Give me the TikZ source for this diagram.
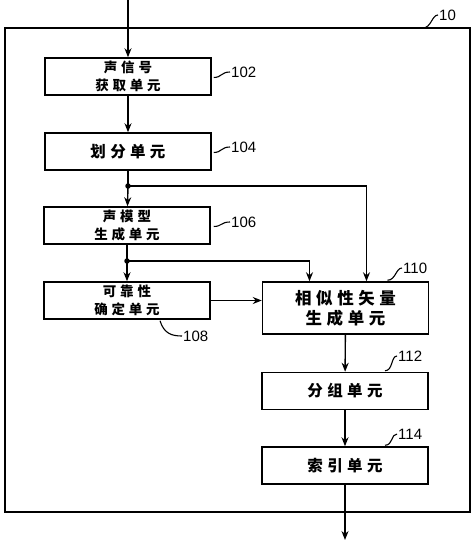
\documentclass[tikz,border=0pt]{standalone}
\usepackage{fontspec}
\setmainfont{Liberation Sans}
\newfontfamily\cjk[LetterSpace=28]{Noto Sans CJK SC}
\usetikzlibrary{arrows.meta,positioning}
\tikzset{
  unit/.style  ={draw, line width=1.5pt, minimum width=166pt,
                 minimum height=37pt, align=center, inner sep=0pt,
                 font=\cjk\bfseries\fontsize{13.5}{17.5}\selectfont},
  unitl/.style ={unit, font=\cjk\bfseries\fontsize{15.5}{17}\selectfont},
  ar/.style    ={-{Stealth[length=9pt,width=7pt]}, line width=1.4pt},
  ln/.style    ={line width=1.4pt},
  jdot/.style  ={circle, fill, inner sep=0pt, minimum size=5.5pt},
  num/.style   ={font=\fontsize{15}{15}\selectfont, inner sep=1pt},
  lead/.style  ={line width=1.1pt}
}
\begin{document}
\begin{tikzpicture}[x=1pt,y=-1pt]
\useasboundingbox (0,0) rectangle (474,540);
% outer frame
\node[draw, line width=1.6pt, minimum width=465pt, minimum height=484pt,
      inner sep=0pt] (frame) at (237.5,270) {};

% left column
\node[unit] (acq) at (128,76.5) {声信号\\获取单元};
\node[unitl] (seg) at (128,151.5) {划分单元};
\node[unit] (am)  at (127,225.5) {声模型\\生成单元};
\node[unit] (rel) at (127,300.5) {可靠性\\确定单元};
% right column
\node[unitl, minimum height=52pt, font=\cjk\bfseries\fontsize{16.5}{20}\selectfont]
  (sim) at (345.5,308) {相似性矢量\\生成单元};
\node[unitl] (grp) at (345,391) {分组单元};
\node[unitl] (idx) at (345,465.5) {索引单元};

\node[jdot] (j1) at (128,186) {};
\node[jdot] (j2) at (127,261) {};
\coordinate (in)  at (128,0);
\coordinate (out) at (345,540);

% connectors
\draw[ar] (in) -- (acq);
\draw[ar] (acq) -- (seg);
\draw[ln] (seg) -- (j1.center);
\draw[ar] (j1.center) -- (am);
\draw[ar] (j1.center) -| ([xshift=21pt]sim.north);
\draw[ln] (am) -- (j2.center);
\draw[ar] (j2.center) -- (rel);
\draw[ar] (j2.center) -| ([xshift=-36pt]sim.north);
\draw[ar] (rel.east) -- (rel.east -| sim.west);
\draw[ar] (sim) -- (grp);
\draw[ar] (grp) -- (idx);
\draw[ar] (idx) -- (out);

% reference numerals
\node[num, anchor=west] (n10)  at (438,15)  {10};
\node[num, anchor=west] (n102) at (230,72)  {102};
\node[num, anchor=west] (n104) at (230,147) {104};
\node[num, anchor=west] (n106) at (230,222) {106};
\node[num, anchor=west] (n108) at (182,336) {108};
\node[num, anchor=west] (n110) at (402,268) {110};
\node[num, anchor=west] (n112) at (397,356) {112};
\node[num, anchor=west] (n114) at (397,434) {114};

\draw[lead] (423,28) .. controls +(8,0) and +(-6,0) .. (n10.west);
\draw[lead] ([xshift=2pt,yshift=-1pt]acq.east) .. controls +(8,0) and +(-9,0) .. (n102.west);
\draw[lead] ([xshift=2pt,yshift=-1pt]seg.east) .. controls +(8,0) and +(-9,0) .. (n104.west);
\draw[lead] ([xshift=3pt,yshift=-1pt]am.east) .. controls +(8,0) and +(-9,0) .. (n106.west);
\draw[lead] ([xshift=33pt,yshift=-1pt]rel.south) .. controls +(4,13) and +(-10,0) .. (n108.west);
\draw[lead] ([xshift=42pt,yshift=1pt]sim.north) .. controls +(8,0) and +(-6,0) .. (n110.west);
\draw[lead] ([xshift=40pt,yshift=1pt]grp.north) .. controls +(8,0) and +(-6,0) .. (n112.west);
\draw[lead] ([xshift=40pt,yshift=1pt]idx.north) .. controls +(8,0) and +(-6,0) .. (n114.west);
\end{tikzpicture}
\end{document}
